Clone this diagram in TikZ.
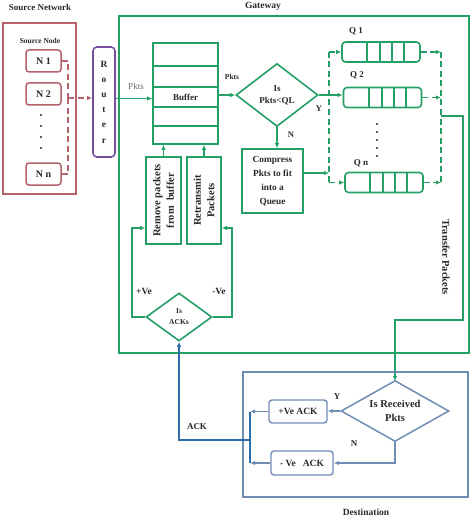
\documentclass[tikz,border=0pt]{standalone}
\usepackage{fontspec}
\setmainfont{Liberation Serif}
\usetikzlibrary{arrows.meta,shapes.geometric,calc}
\definecolor{gw}{RGB}{36,160,102}
\definecolor{src}{RGB}{182,98,108}
\definecolor{rtrc}{RGB}{118,78,158}
\definecolor{dst}{RGB}{112,140,180}
\definecolor{ackc}{RGB}{44,108,168}
\definecolor{txt}{RGB}{40,40,40}
\begin{document}
\begin{tikzpicture}[x=1pt,y=-1pt,
  tx/.style={font=\bfseries\fontsize{9}{10.5}\selectfont, text=txt, inner sep=0pt, align=center},
  stx/.style={font=\bfseries\fontsize{7.5}{9}\selectfont, text=txt, inner sep=0pt, align=center},
  gbox/.style={draw=gw, line width=1.6pt, inner sep=0pt, fill=white},
  gl/.style={draw=gw, line width=1.6pt},
  ga/.style={gl, -{Latex[length=5pt,width=4.5pt]}},
  gd/.style={gl, dash pattern=on 6pt off 3.5pt},
  gda/.style={gd, -{Latex[length=5pt,width=4.5pt]}},
  sbox/.style={draw=src, line width=1.5pt, inner sep=0pt, rounded corners=3pt},
  sd/.style={draw=src, line width=1.5pt, dash pattern=on 6pt off 3.5pt},
  dbox/.style={draw=dst, line width=1.4pt, inner sep=0pt, rounded corners=3pt},
  da/.style={draw=dst, line width=1.3pt, -{Latex[length=5pt,width=4.5pt]}},
  qbox/.style={gbox, rounded corners=3.5pt, minimum width=78pt, minimum height=20pt},
  gdia/.style={gbox, diamond, inner sep=0pt}
]
\useasboundingbox (0,0) rectangle (474,516);

% ---------- Source network ----------
\node[tx] (srcl) at (40,7) {Source Network};
\node[draw=src, line width=1.6pt, minimum width=73pt, minimum height=171pt] (srcbox) at (39.5,108.5) {};
\node[stx] (srcn) at (40,41) {Source Node};
\node[sbox, minimum width=35pt, minimum height=22pt, tx, font=\bfseries\fontsize{10}{11}\selectfont] (n1) at (43.5,61) {N 1};
\node[sbox, minimum width=35pt, minimum height=22pt, tx, font=\bfseries\fontsize{10}{11}\selectfont] (n2) at (43.5,94) {N 2};
\node[sbox, minimum width=35pt, minimum height=22pt, tx, font=\bfseries\fontsize{10}{11}\selectfont] (nn) at (43.5,174) {N n};
\foreach \yy in {115,126,137,148} \fill[txt] (41,\yy) circle (1.1pt);
\coordinate (sbus) at (68,98);
\draw[sd] (n1.east) -| (sbus);
\draw[sd] (nn.east) -| (sbus);

% ---------- Router ----------
\node[draw=rtrc, line width=1.6pt, rounded corners=4pt, minimum width=22pt, minimum height=110pt,
      inner sep=0pt, align=center, font=\bfseries\fontsize{9.5}{15.2}\selectfont, text=txt] (rtr) at (104,102) {R\\o\\u\\t\\e\\r};
\draw[sd, -{Latex[length=5pt,width=4.5pt]}] (sbus) -- (rtr.west |- sbus);

% ---------- Gateway ----------
\node[tx, font=\bfseries\fontsize{9.5}{11}\selectfont] (gwl) at (263,6) {Gateway};
\node[draw=gw, line width=2pt, minimum width=350pt, minimum height=337pt] (gwbox) at (294,184.5) {};

% buffer
\node[gbox, minimum width=65pt, minimum height=101pt] (buf) at (185.5,93.5) {};
\foreach \yy in {66,87,107,126} \draw[gl] (buf.west |- 0,\yy) -- (buf.east |- 0,\yy);
\node[tx] (bufl) at (185.5,97) {Buffer};
\node[font=\fontsize{9}{10}\selectfont, text=black!60, inner sep=0pt] (pk1) at (136,86) {Pkts};
\draw[ga] ([yshift=-5pt]buf.west -| rtr.east) -- ([yshift=-5pt]buf.west);

% decision
\node[gdia, minimum width=82pt, minimum height=63pt] (d1) at (277,95) {};
\node[stx, font=\bfseries\fontsize{9}{10}\selectfont] at (277,95) {Is\\[2pt]Pkts<QL};
\node[stx] (pk2) at (232,77) {Pkts};
\draw[ga] (buf.east |- d1.west) -- (d1.west);
\node[stx, font=\bfseries\fontsize{8.5}{10}\selectfont] (ylab) at (319,109) {Y};
\node[stx, font=\bfseries\fontsize{8.5}{10}\selectfont] (nlab) at (291,135) {N};

% compress
\node[gbox, minimum width=61pt, minimum height=64pt, tx, font=\bfseries\fontsize{9.3}{13.8}\selectfont] (cmp) at (272.5,181) {Compress\\Pkts to fit\\into a\\Queue};
\draw[ga] (d1.south) -- (d1.south |- cmp.north);

% queues
\node[qbox] (q1) at (381,52) {};
\node[qbox] (q2) at (382.5,97.5) {};
\node[qbox] (qn) at (384,182.5) {};
\foreach \q in {q1,q2,qn}
  \foreach \d in {26,39,51,63}
    \draw[gl] ([xshift=\d pt]\q.north west) -- ([xshift=\d pt]\q.south west);
\node[tx] (q1l) at (356,31) {Q 1};
\node[tx] (q2l) at (357,75) {Q 2};
\node[tx] (qnl) at (361,163) {Q n};
\foreach \yy in {124,132,140,148,156} \fill[txt] (377,\yy) circle (1.1pt);

\coordinate (lt) at (329,52);
\coordinate (lb) at (329,182.5);
\coordinate (lc) at (329,173);
\draw[gd] (lt) -- (lb);
\draw[gda] (lt) -- (q1.west);
\draw[gda] (lb) -- (qn.west);
\draw[ga] (d1.east) -- (q2.west |- d1.east);
\draw[ga] (cmp.east |- lc) -- (lc);

\coordinate (rt) at (441,52);
\coordinate (rb) at (441,182.5);
\coordinate (rm) at (441,97.5);
\draw[gd] (rt) -- (rb);
\draw[gda] (q1.east) -- (rt);
\draw[gda] (q2.east) -- (rm);
\draw[gda] (qn.east) -- (rb);

% remove / retransmit
\node[gbox, minimum width=35pt, minimum height=87pt] (rem) at (163.5,200.5) {};
\node[gbox, minimum width=34pt, minimum height=87pt] (ret) at (204,200.5) {};
\node[tx, rotate=90, font=\bfseries\fontsize{10.5}{13.5}\selectfont] at (rem) {Remove packets\\from \ buffer};
\node[tx, rotate=90, font=\bfseries\fontsize{10.5}{13.5}\selectfont] at (ret) {Retransmit\\Packets};
\draw[ga] (rem.north) -- (rem.north |- buf.south);
\draw[ga] (ret.north) -- (ret.north |- buf.south);

% Is ACKs
\node[gdia, minimum width=66pt, minimum height=48pt] (ackd) at (179,317) {};
\node[stx] at (179,317) {Is\\[2pt]ACKs};
\coordinate (la) at (132,228);
\coordinate (ra) at (232,228);
\draw[ga] (ackd.west) -| (la) -- (rem.west |- la);
\draw[ga] (ackd.east) -| (ra) -- (ret.east |- ra);
\node[stx, font=\bfseries\fontsize{9.5}{10}\selectfont] (pve) at (144,291) {+Ve};
\node[stx, font=\bfseries\fontsize{9.5}{10}\selectfont] (nve) at (219,291) {-Ve};

% transfer packets
\coordinate (tp) at (441,116);
\coordinate (tr) at (463,320);
\draw[ga] (tp) -| (tr) -| (395,381);
\node[tx, rotate=-90, font=\bfseries\fontsize{10.5}{11}\selectfont] (trl) at (446,257) {Transfer Packets};

% ---------- Destination ----------
\node[draw=dst, line width=1.5pt, minimum width=225pt, minimum height=125pt] (dest) at (355.5,434.5) {};
\node[tx, font=\bfseries\fontsize{9.5}{11}\selectfont] (destl) at (366,512) {Destination};
\node[draw=dst, line width=1.5pt, diamond, inner sep=0pt, minimum width=108pt, minimum height=61pt] (rcv) at (395,411) {};
\node[stx, font=\bfseries\fontsize{10.5}{12}\selectfont] at (395,411) {Is Received\\[2pt]Pkts};
\node[dbox, minimum width=58pt, minimum height=23pt, stx, font=\bfseries\fontsize{9.5}{11}\selectfont] (pos) at (298,411.5) {+Ve ACK};
\node[dbox, minimum width=62pt, minimum height=24pt, stx, font=\bfseries\fontsize{9.5}{11}\selectfont] (neg) at (302,463) {- Ve \ \ ACK};
\draw[da] (rcv.west) -- (pos.east |- rcv.west);
\draw[da] (rcv.south) |- (neg.east);
\node[stx, font=\bfseries\fontsize{9}{10}\selectfont] (ylab2) at (337,397) {Y};
\node[stx, font=\bfseries\fontsize{9}{10}\selectfont] (nlab2) at (354,444) {N};

\coordinate (abus) at (250,440);
\draw[draw=ackc, line width=1.6pt] (pos.west -| abus) -- (neg.west -| abus);
\draw[da] (pos.west) -- (pos.west -| abus);
\draw[da] (neg.west) -- (neg.west -| abus);
\draw[draw=ackc, line width=1.8pt, -{Latex[length=5pt,width=4.5pt]}] (abus) -| (ackd.south);
\node[stx, font=\bfseries\fontsize{9}{10}\selectfont] (ackl) at (197,427) {ACK};
\end{tikzpicture}
\end{document}
